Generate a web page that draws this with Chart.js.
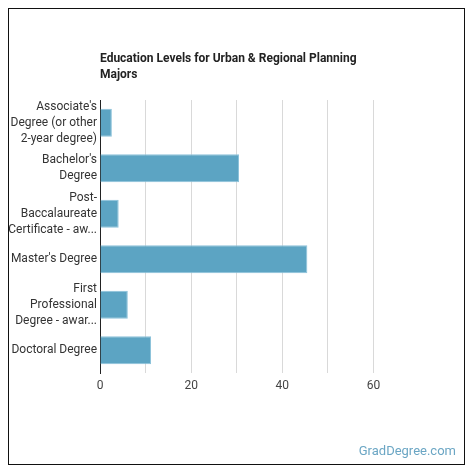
<!DOCTYPE html>
<html>
<head>
<meta charset="utf-8">
<script src="https://cdn.jsdelivr.net/npm/chart.js@4"></script>
<style>
  body { margin: 0; background: #fff; font-family: Roboto, sans-serif; }
  #wrap { position: relative; width: 476px; height: 476px; }
  #cadre { position: absolute; left: 8px; top: 8px; width: 455px; height: 455px; border: 1.5px solid #111; }
  #titolo { position: absolute; left: 100px; top: 50px; font: bold 12px Roboto, sans-serif; color: #222; line-height: 16px; }
  #marchio { position: absolute; right: 20px; top: 443px; font: 13px Roboto, sans-serif; color: #6ba6c4; }
  canvas { position: absolute; left: 0; top: 0; }
</style>
</head>
<body>
<div id="wrap">
  <div id="cadre"></div>
  <canvas id="grafico" width="476" height="476"></canvas>
  <div id="titolo">Education Levels for Urban &amp; Regional Planning<br>Majors</div>
  <div id="marchio">GradDegree.com</div>
</div>
<script>
// categorie (etichette su più righe)
const categorie = [
    ["Associate's", "Degree (or other", "2-year degree)"],
    ["Bachelor's", "Degree"],
    ["Post-", "Baccalaureate", "Certificate - aw..."],
    ["Master's Degree"],
    ["First", "Professional", "Degree - awar..."],
    ["Doctoral Degree"]
];
const percentuali = [2.6, 30.5, 4.1, 45.5, 6.1, 11.2];
const tickMostrati = [0, 20, 40, 60];

const ctx = document.getElementById('grafico').getContext('2d');
new Chart(ctx, {
    type: 'bar',
    data: {
        labels: categorie,
        datasets: [{
            data: percentuali,
            backgroundColor: '#5ca4c3',
            borderColor: '#8cc2da',
            borderWidth: 1,
            barPercentage: 0.62,
            categoryPercentage: 1
        }]
    },
    options: {
        indexAxis: 'y',
        responsive: false,
        animation: false,
        layout: { padding: { left: 0, top: 100, right: 57, bottom: 0 } },
        plugins: {
            legend: { display: false },
            title: { display: false },
            tooltip: { enabled: false }
        },
        scales: {
            x: {
                min: 0,
                max: 70,
                ticks: {
                    stepSize: 10,
                    autoSkip: false,
                    maxRotation: 0,
                    padding: 6,
                    color: '#444',
                    font: { family: 'Roboto', size: 12 },
                    callback: function (v) {
                        return tickMostrati.includes(v) ? String(v) : '';
                    }
                },
                grid: {
                    color: function (c) {
                        return c.tick && c.tick.value === 70 ? 'rgba(0,0,0,0)' : '#d9d9d9';
                    },
                    drawTicks: false
                },
                border: { display: false },
                afterFit: function (scala) { scala.height = 103; }
            },
            y: {
                ticks: {
                    autoSkip: false,
                    padding: 3,
                    color: '#333',
                    font: { family: 'Roboto', size: 12, lineHeight: 1.33 }
                },
                grid: { display: false, drawTicks: false },
                border: { display: true, color: '#222', width: 1 },
                afterFit: function (scala) { scala.width = 100; }
            }
        }
    }
});
</script>
</body>
</html>
